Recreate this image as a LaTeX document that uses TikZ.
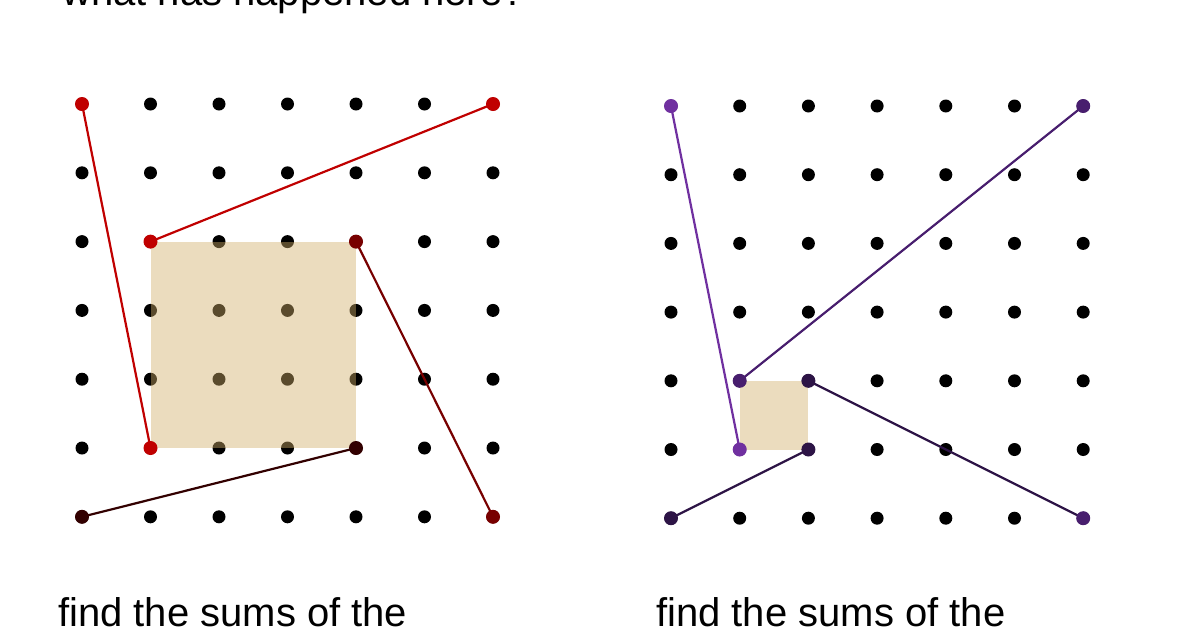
\documentclass[tikz,border=0pt]{standalone}
\usepackage{fontspec}
\setmainfont{Liberation Sans}
\begin{document}
\begin{tikzpicture}[x=1pt,y=-1pt,
  dot/.style={fill=black,circle,inner sep=0pt,minimum size=13pt},
  cdot/.style={circle,inner sep=0pt,minimum size=14pt,fill=#1},
  seg/.style={line width=2.2pt,draw=#1},
  lab/.style={anchor=base west,font=\fontsize{40}{44}\selectfont,inner sep=0pt}]
\definecolor{rA}{RGB}{192,0,0}\definecolor{rB}{RGB}{120,0,0}\definecolor{rC}{RGB}{50,0,0}
\definecolor{pA}{RGB}{112,48,160}\definecolor{pB}{RGB}{72,30,110}\definecolor{pC}{RGB}{45,20,70}
\definecolor{tan}{RGB}{209,174,105}
\useasboundingbox (0,0) rectangle (1200,630);
\clip (0,0) rectangle (1200,630);
\node[lab] (t1) at (62,5) {what has happened here?};
\node[lab] (t2) at (58,626) {find the sums of the};
\node[lab] (t3) at (656,626) {find the sums of the};
% grids
\foreach \i in {0,...,6}\foreach \j in {0,...,6}{
  \node[dot] (L\i\j) at ({82+68.5*\i},{104+68.8*\j}) {};
  \node[dot] (R\i\j) at ({671+68.7*\i},{106+68.7*\j}) {};
}
\fill[tan,opacity=0.43] (L12.center) rectangle (L45.center);
\fill[tan,opacity=0.43] (R14.center) rectangle (R25.center);
% left
\draw[seg=rA] (L00.center) -- (L15.center);
\draw[seg=rA] (L12.center) -- (L60.center);
\draw[seg=rB] (L42.center) -- (L66.center);
\draw[seg=rC] (L06.center) -- (L45.center);
\foreach \n/\c in {00/rA,60/rA,12/rA,15/rA,42/rB,66/rB,45/rC,06/rC}
  \node[cdot=\c] (cL\n) at (L\n) {};
% right
\draw[seg=pA] (R00.center) -- (R15.center);
\draw[seg=pB] (R14.center) -- (R60.center);
\draw[seg=pC] (R24.center) -- (R66.center);
\draw[seg=pC] (R06.center) -- (R25.center);
\foreach \n/\c in {00/pA,15/pA,60/pB,14/pB,66/pB,24/pC,25/pC,06/pC}
  \node[cdot=\c] (cR\n) at (R\n) {};
\end{tikzpicture}
\end{document}
